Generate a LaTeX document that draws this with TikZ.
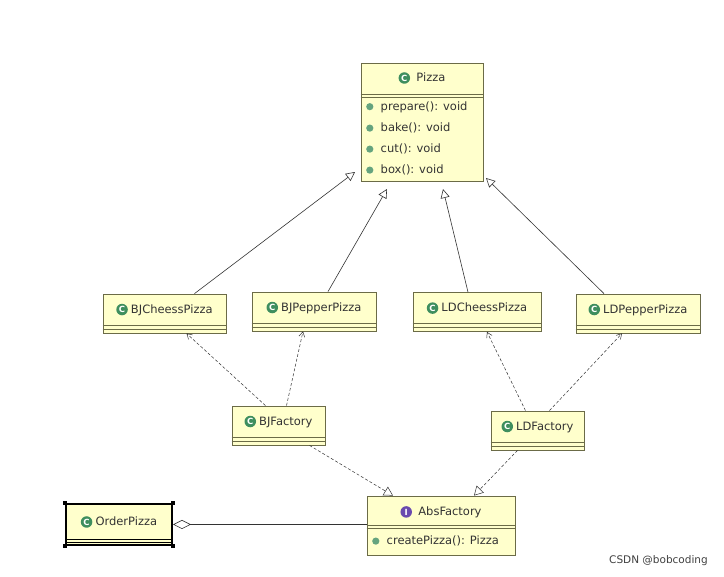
\documentclass[tikz,border=0pt]{standalone}
\usepackage{fontspec}
\setmainfont{DejaVu Sans}
\usetikzlibrary{arrows.meta,calc}
\definecolor{cfill}{HTML}{FFFFCC}
\definecolor{cline}{HTML}{6B6B47}
\definecolor{cgreen}{HTML}{3E8E5E}
\definecolor{cpurple}{HTML}{6A4AAE}
\newcommand{\ic}[2]{\tikz[baseline=-3.5pt]\node[circle,fill=#1,inner sep=0pt,minimum size=11.5pt,text=white,font=\fontsize{8.5}{8.5}\selectfont\bfseries]{#2};}
\newcommand{\dotm}{\tikz[baseline=-3.5pt]\fill[cgreen!80] (0,0) circle (3.6pt);}
\tikzset{
 cls/.style={draw=cline,fill=cfill,line width=0.8pt,rectangle,inner sep=0pt},
 ttl/.style={font=\fontsize{11.5}{13}\selectfont,text=black!80,inner sep=0pt},
 gen/.style={-{Triangle[open,length=9pt,width=9pt]},line width=0.6pt,black!80},
 dep/.style={-{Straight Barb[length=5pt,width=6pt]},dashed,dash pattern=on 3pt off 2pt,line width=0.5pt,black!80},
 real/.style={-{Triangle[open,length=9pt,width=10pt]},dashed,dash pattern=on 3pt off 2pt,line width=0.5pt,black!80},
 agg/.style={{Diamond[open,length=18pt,width=9pt]}-,line width=0.6pt,black!80}
}
\newcommand{\smallcls}[5]{% name, cx, cy, w, title
 \node[cls,minimum width=#4,minimum height=39] (#1) at (#2,#3) {};
 \draw[cline,line width=0.8pt] ($(#1.south west)+(0,8)$) -- ($(#1.south east)+(0,8)$);
 \draw[cline,line width=0.8pt] ($(#1.south west)+(0,4)$) -- ($(#1.south east)+(0,4)$);
 \node[ttl] (#1t) at ($(#1.north)+(0,-16)$) {\ic{cgreen}{C}\;#5};
}
\begin{document}
\begin{tikzpicture}[x=1pt,y=1pt]
\useasboundingbox (0,0) rectangle (724,-577);
\fill[white] (0,0) rectangle (724,-577);
% Pizza
\node[cls,minimum width=122,minimum height=118] (pz) at (422,-122) {};
\draw[cline,line width=0.8pt] ($(pz.north west)+(0,-32)$) -- ($(pz.north east)+(0,-32)$);
\draw[cline,line width=0.8pt] ($(pz.north west)+(0,-35)$) -- ($(pz.north east)+(0,-35)$);
\node[ttl] (pzt) at (422,-78) {\ic{cgreen}{C}\;\;Pizza};
\node[ttl,anchor=west] (m1) at (366,-107) {\dotm\ \ prepare(): void};
\node[ttl,anchor=west] (m2) at (366,-128) {\dotm\ \ bake(): void};
\node[ttl,anchor=west] (m3) at (366,-149) {\dotm\ \ cut(): void};
\node[ttl,anchor=west] (m4) at (366,-170) {\dotm\ \ box(): void};
% products
\smallcls{bjc}{164.5}{-313.5}{123}{BJCheessPizza}
\smallcls{bjp}{314}{-311.5}{124}{BJPepperPizza}
\smallcls{ldc}{477}{-312}{128}{LDCheessPizza}
\smallcls{ldp}{638}{-313.5}{124}{LDPepperPizza}
% factories
\smallcls{bjf}{278.5}{-425.5}{93}{BJFactory}
\smallcls{ldf}{537.5}{-430.5}{93}{LDFactory}
% AbsFactory
\node[cls,minimum width=148,minimum height=59] (abs) at (441,-525.5) {};
\draw[cline,line width=0.8pt] ($(abs.north west)+(0,-30)$) -- ($(abs.north east)+(0,-30)$);
\draw[cline,line width=0.8pt] ($(abs.north west)+(0,-33)$) -- ($(abs.north east)+(0,-33)$);
\node[ttl] (abst) at (441,-512) {\ic{cpurple}{I}\;\;AbsFactory};
\node[ttl,anchor=west] (absm) at (372,-541) {\dotm\ \ createPizza(): Pizza};
% OrderPizza
\node[cls,draw=black,line width=2pt,minimum width=106,minimum height=41] (op) at (119,-524.5) {};
\draw[black,line width=0.8pt] ($(op.south west)+(0,7)$) -- ($(op.south east)+(0,7)$);
\draw[black,line width=0.8pt] ($(op.south west)+(0,4)$) -- ($(op.south east)+(0,4)$);
\foreach \a in {north west,north east,south west,south east}{\fill[black] ($(op.\a)+(-2,-2)$) rectangle ++(4,4);}
\node[ttl] (opt) at (119,-522) {\ic{cgreen}{C}\;OrderPizza};
% generalizations
\draw[gen] ($(bjc.north)+(30,0)$) -- (355,-172);
\draw[gen] ($(bjp.north)+(14,0)$) -- (387,-189);
\draw[gen] ($(ldc.north)+(-9,0)$) -- (443,-189);
\draw[gen] ($(ldp.north)+(-34,0)$) -- (486,-178);
% dependencies
\draw[dep] ($(bjf.north)+(-13,0)$) -- ($(bjc.south)+(22,0)$);
\draw[dep] ($(bjf.north)+(8,0)$) -- ($(bjp.south)+(-11,0)$);
\draw[dep] ($(ldf.north)+(-12,0)$) -- ($(ldc.south)+(10,0)$);
\draw[dep] ($(ldf.north)+(12,0)$) -- ($(ldp.south)+(-16,0)$);
% realizations
\draw[real] ($(bjf.south)+(31,0)$) -- ($(abs.north)+(-48,0)$);
\draw[real] ($(ldf.south)+(-20,0)$) -- ($(abs.north)+(33,0)$);
% aggregation
\draw[agg] (op.east) -- (abs.west |- op.east);
\node[font=\fontsize{10.5}{12}\selectfont,text=black!75,anchor=south east,inner sep=0pt] (wm) at (708,-566) {CSDN @bobcoding};
\end{tikzpicture}
\end{document}
